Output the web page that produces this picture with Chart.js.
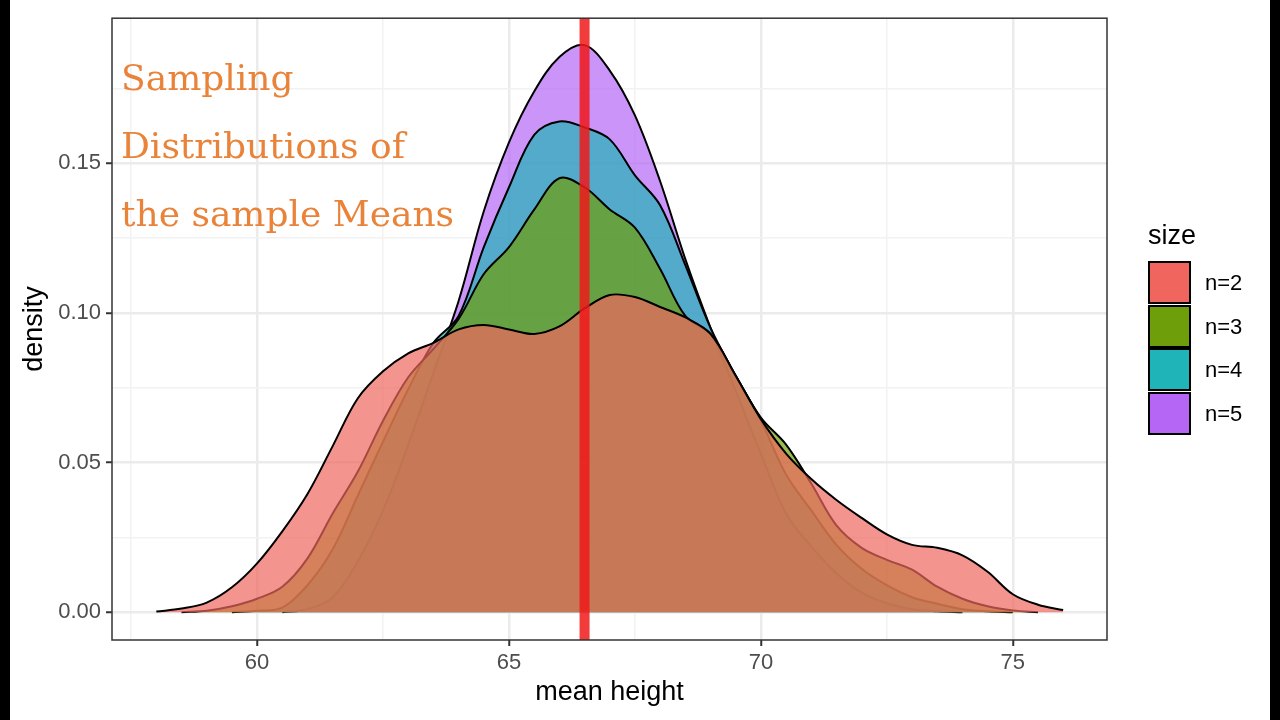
<!DOCTYPE html>
<html>
<head>
<meta charset="utf-8">
<script src="https://cdn.jsdelivr.net/npm/chart.js@4.4.0/dist/chart.umd.min.js"></script>
<style>
    body { margin: 0; background: #000; }
    #wrap { position: absolute; left: 10px; top: 0; width: 1260px; height: 720px; background: #fff; overflow: hidden; }
    #chart { position: absolute; left: 0; top: 0; }
    .note { position: absolute; left: 111px; top: 44px; font-family: "DejaVu Serif", serif; font-size: 36px; line-height: 68px; color: #E9833A; white-space: nowrap; }
    .legTitle { position: absolute; left: 1138px; top: 222px; font-family: "Liberation Sans", Arial, sans-serif; font-size: 27px; line-height: 1; color: #000; }
    .key { position: absolute; left: 1138px; width: 39px; height: 39px; border: 2px solid #000; }
    .keyLabel { position: absolute; left: 1195px; font-family: "Liberation Sans", Arial, sans-serif; font-size: 22px; line-height: 43px; color: #000; }
</style>
</head>
<body>
<div id="wrap">
    <canvas id="chart" width="1260" height="720"></canvas>
    <div class="note">Sampling<br>Distributions of<br>the sample Means</div>
    <div id="legend"></div>
</div>
<script>
// Werte (Dichte je mittlerer Größe)
const heights = [58, 58.5, 59, 59.5, 60, 60.5, 61, 61.5, 62, 62.5, 63, 63.5, 64, 64.5, 65, 65.5, 66, 66.5, 67, 67.5, 68, 68.5, 69, 69.5, 70, 70.5, 71, 71.5, 72, 72.5, 73, 73.5, 74, 74.5, 75, 75.5, 76];
const densN2 = [0.0002, 0.0012, 0.0032, 0.0083, 0.0163, 0.027, 0.0395, 0.0555, 0.0715, 0.0805, 0.0865, 0.090, 0.0945, 0.096, 0.0945, 0.093, 0.0955, 0.1015, 0.106, 0.1053, 0.102, 0.0985, 0.093, 0.079, 0.0645, 0.053, 0.0445, 0.0375, 0.0315, 0.026, 0.0225, 0.0215, 0.019, 0.0135, 0.006, 0.0025, 0.0007];
const densN3 = [null, 0, 0.0005, 0.002, 0.0045, 0.0085, 0.018, 0.033, 0.047, 0.064, 0.0785, 0.088, 0.098, 0.113, 0.122, 0.1345, 0.145, 0.142, 0.1346, 0.1285, 0.1147, 0.099, 0.093, 0.079, 0.065, 0.056, 0.043, 0.029, 0.0215, 0.0175, 0.0142, 0.0085, 0.0045, 0.002, 0.0006, 0, null];
const densN4 = [null, null, null, 0, 0.0005, 0.0015, 0.009, 0.021, 0.039, 0.057, 0.0745, 0.090, 0.099, 0.122, 0.142, 0.1595, 0.164, 0.162, 0.158, 0.146, 0.136, 0.116, 0.095, 0.079, 0.064, 0.046, 0.034, 0.0225, 0.0145, 0.009, 0.005, 0.0028, 0.001, 0.0003, 0, null, null];
const densN5 = [null, null, null, null, null, 0, 0.001, 0.005, 0.017, 0.034, 0.056, 0.080, 0.104, 0.134, 0.157, 0.174, 0.1855, 0.1895, 0.181, 0.166, 0.144, 0.118, 0.095, 0.074, 0.053, 0.033, 0.022, 0.013, 0.0065, 0.003, 0.001, 0.0003, 0, null, null, null, null];
const sizeLabels = ["n=2", "n=3", "n=4", "n=5"];
const meanLine = 66.5;

const xGrid = [57.5, 60, 62.5, 65, 67.5, 70, 72.5, 75];
const yGrid = [0, 0.025, 0.05, 0.075, 0.1, 0.125, 0.15, 0.175];

const keyColors = ["#F0665F", "#6E9E0A", "#1FB4B8", "#B566F5"];
const fillColors = ["rgba(240,102,95,0.7)", "rgba(110,158,10,0.7)", "rgba(31,180,184,0.7)", "rgba(181,102,245,0.7)"];
const font = "'Liberation Sans', Arial, sans-serif";

// Legende als HTML
const legend = document.getElementById("legend");
legend.innerHTML = '<div class="legTitle">size</div>';
const keyTops = [261, 304.5, 348, 391.5];
sizeLabels.forEach((lab, i) => {
    legend.innerHTML += `<div class="key" style="top:${keyTops[i]}px;background:${keyColors[i]}"></div>` +
        `<div class="keyLabel" style="top:${keyTops[i]}px">${lab}</div>`;
});

const allSeries = [densN2, densN3, densN4, densN5];
const datasets = allSeries.map((s, i) => ({
    label: sizeLabels[i],
    data: heights.map((h, j) => ({ x: h, y: s[j] })),
    backgroundColor: fillColors[i],
    borderColor: "#000",
    borderWidth: 2,
    fill: "origin",
    pointRadius: 0,
    tension: 0.35
}));
// rote Linie beim Mittelwert
datasets.push({
    label: "mean",
    data: [{ x: meanLine, y: -0.0093 }, { x: meanLine, y: 0.1985 }],
    borderColor: "rgba(240,25,25,0.85)",
    borderWidth: 10,
    borderCapStyle: "butt",
    fill: false,
    pointRadius: 0,
    order: -1
});

const isMajorX = v => Math.abs(v / 5 - Math.round(v / 5)) < 1e-6;
const isMajorY = v => Math.abs(v / 0.05 - Math.round(v / 0.05)) < 1e-6;

const panelBorder = {
    id: "panelBorder",
    afterDatasetsDraw(chart) {
        const a = chart.chartArea, ctx = chart.ctx;
        ctx.save();
        ctx.strokeStyle = "#333";
        ctx.lineWidth = 1.5;
        ctx.strokeRect(a.left, a.top, a.right - a.left, a.bottom - a.top);
        ctx.restore();
    }
};

new Chart(document.getElementById("chart"), {
    type: "line",
    data: { datasets: datasets },
    options: {
        responsive: false,
        animation: false,
        layout: { padding: { left: 0, right: 163, top: 14, bottom: 0 } },
        plugins: { legend: { display: false }, tooltip: { enabled: false } },
        scales: {
            x: {
                type: "linear",
                min: 57.12,
                max: 76.87,
                afterBuildTicks: s => { s.ticks = xGrid.map(v => ({ value: v })); },
                afterFit: s => { s.height = 80; },
                ticks: {
                    autoSkip: false,
                    maxRotation: 0,
                    padding: 4,
                    color: "#4D4D4D",
                    font: { family: font, size: 22 },
                    callback: v => isMajorX(v) ? String(v) : ""
                },
                grid: {
                    color: c => isMajorX(c.tick.value) ? "#EBEBEB" : "#F2F2F2",
                    lineWidth: c => isMajorX(c.tick.value) ? 2.5 : 1.5,
                    tickColor: c => isMajorX(c.tick.value) ? "#333" : "rgba(0,0,0,0)",
                    tickLength: 6,
                    tickWidth: 2
                },
                border: { display: false },
                title: { display: true, text: "mean height", color: "#000", font: { family: font, size: 27 }, padding: { top: 0, bottom: 11 } }
            },
            y: {
                min: -0.0093,
                max: 0.1985,
                afterBuildTicks: s => { s.ticks = yGrid.map(v => ({ value: v })); },
                afterFit: s => { s.width = 102; },
                ticks: {
                    autoSkip: false,
                    padding: 5,
                    color: "#4D4D4D",
                    font: { family: font, size: 22 },
                    callback: v => isMajorY(v) ? v.toFixed(2) : ""
                },
                grid: {
                    color: c => isMajorY(c.tick.value) ? "#EBEBEB" : "#F2F2F2",
                    lineWidth: c => isMajorY(c.tick.value) ? 2.5 : 1.5,
                    tickColor: c => isMajorY(c.tick.value) ? "#333" : "rgba(0,0,0,0)",
                    tickLength: 6,
                    tickWidth: 2
                },
                border: { display: false },
                title: { display: true, text: "density", color: "#000", font: { family: font, size: 27 }, padding: { top: 8, bottom: 0 } }
            }
        }
    },
    plugins: [panelBorder]
});
</script>
</body>
</html>
